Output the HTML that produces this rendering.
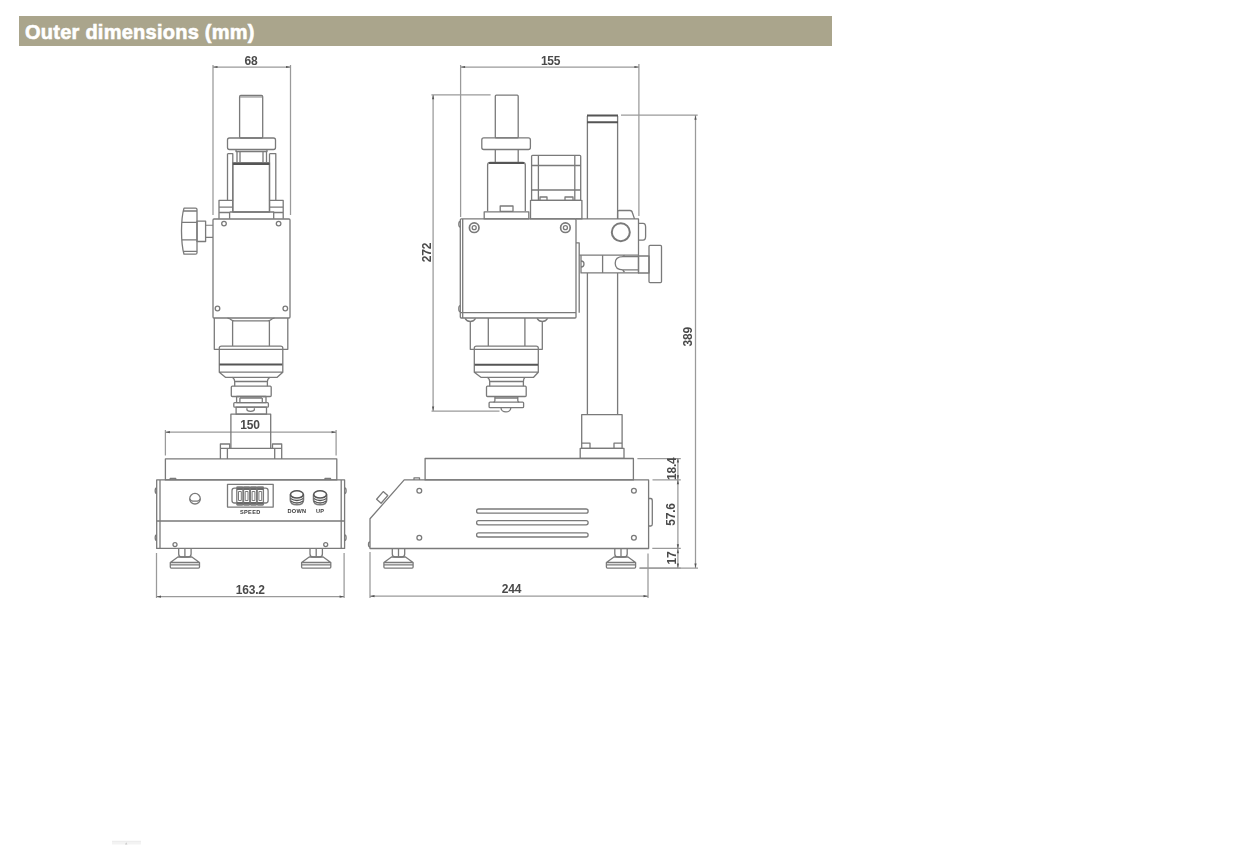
<!DOCTYPE html>
<html><head><meta charset="utf-8">
<style>
html,body{margin:0;padding:0;background:#fff;width:1243px;height:857px;overflow:hidden;}
#hdr{position:absolute;left:19px;top:16px;width:813px;height:30px;background:#aaa58c;}
#hdr span{position:absolute;left:6px;top:4.5px;font:bold 20px/22px "Liberation Sans",sans-serif;color:#fff;letter-spacing:0.25px;-webkit-text-stroke:0.6px #fff;white-space:nowrap;}
svg{position:absolute;left:0;top:0;will-change:transform;}
.m{fill:none;stroke:#7a7a7a;stroke-width:1.3;stroke-linejoin:round;}
.k{fill:none;stroke:#555;stroke-width:2;}
.d{fill:none;stroke:#9a9a9a;stroke-width:1.25;}
.a{fill:#555;stroke:none;}
.t{font-family:"Liberation Sans",sans-serif;font-size:12px;font-weight:bold;fill:#4a4a4a;letter-spacing:-0.2px;}
.s{font-family:"Liberation Sans",sans-serif;font-size:5.6px;font-weight:bold;fill:#3a3a3a;letter-spacing:0.3px;}
</style></head>
<body>
<div id="hdr"><span>Outer dimensions (mm)</span></div>
<svg width="1243" height="857" viewBox="0 0 1243 857">
<!-- ============ DIMENSIONS ============ -->
<g class="d">
<path d="M213 65V215 M290.5 65V215 M213 67H290.5"/>
<path d="M165.4 430V455.5 M336.1 430V455.5 M165.4 432.2H336.1"/>
<path d="M156.5 553V598 M344.1 553V598 M156.5 596.7H344.1"/>
<path d="M460.6 65V217 M638.9 64V216 M460.6 67H638.9"/>
<path d="M431.4 94.8H490.6 M431.5 411H499.5 M433.1 94.8V411"/>
<path d="M621 115.2H697.7 M640 568.2H698 M695.5 115.2V568.2 M668 115.2H678"/>
<path d="M370 552V598 M648 553.6V598 M370 596.2H648"/>
<path d="M637.4 458.6H680.8 M652.5 479.9H680.8 M652.3 548.4H680.8 M639.2 568.2H680.8 M677.9 458.6V568.2"/>
</g>
<g class="a">
<path d="M213 67l4.5 -1.1v2.2z M290.5 67l-4.5 -1.1v2.2z"/>
<path d="M165.4 432.2l4.5 -1.1v2.2z M336.1 432.2l-4.5 -1.1v2.2z"/>
<path d="M156.5 596.7l4.5 -1.1v2.2z M344.1 596.7l-4.5 -1.1v2.2z"/>
<path d="M460.6 67l4.5 -1.1v2.2z M638.9 67l-4.5 -1.1v2.2z"/>
<path d="M433.1 94.8l-1.1 4.5h2.2z M433.1 411l-1.1 -4.5h2.2z"/>
<path d="M695.5 115.2l-1.1 4.5h2.2z M695.5 568l-1.1 -4.5h2.2z"/>
<path d="M370 596.2l4.5 -1.1v2.2z M648 596.2l-4.5 -1.1v2.2z"/>
<path d="M677.9 458l-1.1 4.5h2.2z M677.9 479.8l-1.1 -4.5h2.2z M677.9 479.8l-1.1 4.5h2.2z M677.9 548.7l-1.1 -4.5h2.2z M677.9 548.7l-1.1 4.5h2.2z M677.9 568.1l-1.1 -4.5h2.2z"/>
</g>
<text class="t" x="251" y="64.5" text-anchor="middle">68</text>
<text class="t" x="250" y="429" text-anchor="middle">150</text>
<text class="t" x="250.3" y="593.5" text-anchor="middle">163.2</text>
<text class="t" x="550.6" y="64.5" text-anchor="middle">155</text>
<text class="t" x="511.4" y="592.5" text-anchor="middle">244</text>
<text class="t" text-anchor="middle" transform="translate(430.5 252.6) rotate(-90)">272</text>
<text class="t" text-anchor="middle" transform="translate(692 336.8) rotate(-90)">389</text>
<text class="t" text-anchor="middle" transform="translate(675.5 468.7) rotate(-90)">18.4</text>
<text class="t" text-anchor="middle" transform="translate(675 514.5) rotate(-90)">57.6</text>
<text class="t" text-anchor="middle" transform="translate(675.5 558) rotate(-90)">17</text>

<!-- ============ LEFT VIEW ============ -->
<g class="m">
<rect x="239.6" y="95.5" width="23.1" height="42.5" rx="1.2"/><path d="M240 97H262.3" stroke="#999" stroke-width="1.2"/>

<rect x="227.5" y="138" width="48" height="11.5" rx="2"/>
<path d="M236 149.5V151.5H267V149.5"/>
<path d="M237 151.5V163 M240 151.5V163 M263 151.5V163 M266.5 151.5V163"/>
<path d="M227.5 153.7H232.8V200.4 M227.5 153.7V200.4 M269.5 153.7H275.8V200.4 M269.5 153.7V200.4"/>
<rect x="232.8" y="162.6" width="36.7" height="49.4"/>
<path class="k" d="M233 164H269.5"/>
<path d="M219 218.8V200.4H232.8V212 M219 207.2H232.8 M219 212.5H229.6"/>
<path d="M283.2 218.8V200.4H269.5V212 M269.5 207.2H283.2 M273.7 212.5H283.2"/>
<path d="M229.6 212H273.7V218.8 M229.6 212V218.8"/>
<rect x="213" y="219" width="77" height="99" rx="1"/>
<circle cx="224" cy="223.6" r="2.3"/>
<circle cx="278.6" cy="223.6" r="2.3"/>
<circle cx="217.5" cy="308.5" r="2.3"/>
<circle cx="285.3" cy="308.5" r="2.3"/>
<path d="M184 208.1H195.5Q197 208.1 197 209.6V252.7Q197 254.2 195.5 254.2H184Q181.6 246 181.5 231Q181.6 216 184 208.1Z M182.8 211H197 M182.8 251.3H197"/>
<path d="M181.8 222.3H197 M181.8 239.9H197"/>
<rect x="197" y="221.1" width="8.6" height="20.4"/>
<path d="M205.6 225.2H213 M205.6 237.4H213" stroke-width="1.1"/>
<path d="M214.3 318V349.3H219.3 M282.8 349.3H287.8V318"/>
<path d="M232.6 321V346 M269.4 321V346 M227.5 318.1Q230 318.3 231.5 320Q232.5 320.9 234.5 320.9H267.5Q269.5 320.9 270.5 320Q272 318.3 274.5 318.1"/>
<path d="M219.3 372.2V348Q219.3 346.1 221.5 346.1H280.6Q282.8 346.1 282.8 348V372.2L277.2 377.3H225.4L219.3 372.2H282.8 M219.3 349.3H282.8"/>
<path class="k" d="M219.5 364.6H282.3"/>
<path d="M232.4 377.3Q234.7 379 234.7 381.5V386.2 M269.8 377.3Q267.4 379 267.4 381.5V386.2 M234 381.5H268"/>
<rect x="231.3" y="386.2" width="39.9" height="10.3" rx="1"/>
<rect x="236.6" y="396.5" width="29.4" height="6.1"/><path d="M239.9 398V402.6 M262.3 398V402.6 M240 398H262"/>
<rect x="233.8" y="402.6" width="34.6" height="4.6" rx="1"/>
<rect x="236.1" y="407.2" width="30.4" height="7"/>
<path d="M246.9 408.2V409.6Q246.9 411.4 250.6 411.4Q254.4 411.4 254.4 409.6V408.2"/>
<path d="M230.9 448.3V414.2H270.7V448.3"/>
<path d="M220.4 458.9V444H229.7V448.3 M220.4 448.3H281.7 M272.5 448.3V444H281.7V458.9"/>
<path d="M227.4 448.3V458.9 M274.7 448.3V458.9"/>
<rect x="165.4" y="458.9" width="171.4" height="21"/>
<rect x="156.7" y="479.9" width="187.9" height="68.5"/>
<path d="M160 479.9V548.6 M341.2 479.9V548.6 M156.7 521H344.6"/>
<path d="M156.7 488Q155.2 488 155.2 490.8Q155.2 493.5 156.7 493.5 M156.7 535Q155.2 535 155.2 537.7Q155.2 540.4 156.7 540.4 M344.6 488Q346.1 488 346.1 490.8Q346.1 493.5 344.6 493.5 M344.6 535Q346.1 535 346.1 537.7Q346.1 540.4 344.6 540.4 M170.2 479.9V478.3H175.7V479.9 M325 479.9V478.3H330.5V479.9"/>
<circle cx="195" cy="498.7" r="5.3"/>
<path d="M190 498.7A5 2.5 0 0 0 200 498.7"/>
<rect x="227.5" y="484.3" width="45.7" height="22.8"/>
<rect x="232" y="488.2" width="36.1" height="14.8" rx="2.5"/>
<rect x="236.8" y="487" width="6.2" height="18" rx="0.8"/>
<path d="M236.9 488.8H242.9 M236.9 503.2H242.9" stroke="#6a6a6a" stroke-width="2.6"/>
<rect x="238.5" y="491.5" width="2.8" height="9" fill="#fff" stroke-width="1"/>
<rect x="243.5" y="487" width="6.2" height="18" rx="0.8"/>
<path d="M243.6 488.8H249.6 M243.6 503.2H249.6" stroke="#6a6a6a" stroke-width="2.6"/>
<rect x="245.2" y="491.5" width="2.8" height="9" fill="#fff" stroke-width="1"/>
<rect x="250.4" y="487" width="6.2" height="18" rx="0.8"/>
<path d="M250.5 488.8H256.5 M250.5 503.2H256.5" stroke="#6a6a6a" stroke-width="2.6"/>
<rect x="252.1" y="491.5" width="2.8" height="9" fill="#fff" stroke-width="1"/>
<rect x="257.2" y="487" width="6.2" height="18" rx="0.8"/>
<path d="M257.3 488.8H263.3 M257.3 503.2H263.3" stroke="#6a6a6a" stroke-width="2.6"/>
<rect x="258.9" y="491.5" width="2.8" height="9" fill="#fff" stroke-width="1"/>
<path d="M290.3 494.5V500Q290.3 504.8 296.9 504.8Q303.5 504.8 303.5 500V494.5" stroke-width="1.5"/>
<path d="M290.5 498.5Q296.9 502.5 303.3 498.5 M290.7 501Q296.9 505 303.1 501" stroke="#555" stroke-width="1.4"/>
<ellipse cx="296.9" cy="494.4" rx="6.4" ry="3.6" stroke="#555" stroke-width="1.6"/>
<path d="M313.5 494.5V500Q313.5 504.8 320.1 504.8Q326.7 504.8 326.7 500V494.5" stroke-width="1.5"/>
<path d="M313.7 498.5Q320.1 502.5 326.5 498.5 M313.9 501Q320.1 505 326.3 501" stroke="#555" stroke-width="1.4"/>
<ellipse cx="320.1" cy="494.4" rx="6.4" ry="3.6" stroke="#555" stroke-width="1.6"/>
<circle cx="175" cy="544.6" r="2"/>
<circle cx="325.7" cy="544.6" r="2"/>
<path d="M178.7 548.5V554.0Q178.7 557.0 181.7 557.0H188.1Q191.1 557.0 191.1 554.0V548.5 M184.9 549.0V557.0"/>
<path d="M177.9 557.0L170.3 562.5V567.1Q170.3 568.1 171.3 568.1H198.5Q199.5 568.1 199.5 567.1V562.5L191.9 557.0Z M170.3 562.5H199.5 M170.3 564.8H199.5"/>
<path d="M310.0 548.5V554.0Q310.0 557.0 313.0 557.0H319.4Q322.4 557.0 322.4 554.0V548.5 M316.2 549.0V557.0"/>
<path d="M309.2 557.0L301.6 562.5V567.1Q301.6 568.1 302.6 568.1H329.8Q330.8 568.1 330.8 567.1V562.5L323.2 557.0Z M301.6 562.5H330.8 M301.6 564.8H330.8"/>
</g>
<text class="s" x="250.3" y="513.5" text-anchor="middle">SPEED</text>
<text class="s" x="297" y="513" text-anchor="middle">DOWN</text>
<text class="s" x="320.2" y="513" text-anchor="middle">UP</text>

<!-- ============ RIGHT VIEW ============ -->
<g class="m">
<rect x="495.3" y="95.2" width="22.9" height="42.7" rx="1"/>

<rect x="481.8" y="137.9" width="48.6" height="11.6" rx="2"/>
<path d="M495.3 149.5V162.3 M518.2 149.5V162.3"/>
<path d="M487.6 211.3V165Q487.6 162.3 490.3 162.3H522.6Q525.3 162.3 525.3 165V211.3"/>
<path class="k" d="M489 163H524"/>
<rect x="500.2" y="206" width="12.8" height="5.3"/>
<rect x="484.2" y="211.8" width="44.6" height="7.1"/>
<rect x="531.6" y="155.3" width="49.1" height="45" rx="1"/>
<path d="M538.4 155.3V200.3 M574.8 155.3V200.3 M531.6 165.5H580.7 M531.6 190H580.7 M538.4 165.5H574.8"/>
<path d="M540 200.3V197H547V200.3 M565 200.3V197H573V200.3"/>
<rect x="530.5" y="200.3" width="51.4" height="18.6"/>
<path d="M587.4 218.9V116 M617.6 218.9V116 M587.4 272.9V414.7 M617.6 272.9V414.7"/>
<path class="k" d="M587 115.5H618 M587 122.2H618"/>
<path d="M617.6 218.9V211.5Q617.6 210.5 619 210.5H630Q632 210.5 632.5 213L634.5 218.9"/>
<rect x="460.3" y="218.9" width="115.7" height="99.1" rx="1"/>
<path d="M462.7 218.9V318 M460.3 312.7H576 M576 242.8H579.2V312.7"/>
<path d="M460.3 221.5Q458.8 221.5 458.8 224.2Q458.8 227 460.3 227 M460.3 305.6Q458.8 305.6 458.8 308.7Q458.8 311.8 460.3 311.8"/>
<circle cx="474.2" cy="227.7" r="4.8" stroke-width="1.7"/>
<circle cx="474.2" cy="227.7" r="2"/>
<circle cx="565.4" cy="227.7" r="4.8" stroke-width="1.7"/>
<circle cx="565.4" cy="227.7" r="2"/>
<path d="M576 218.9H638.5V255.2H579.2"/>
<circle cx="620.8" cy="232.2" r="9" stroke-width="2"/>
<path d="M638.5 223.3H643Q645.6 223.3 645.6 227V236.5Q645.6 240.1 643 240.1H638.5"/>
<path d="M581 255.2V272.9H638.5V255.2 M602.6 255.2V272.9"/>
<path d="M638.5 256.7H623Q615.2 256.7 615.2 263.3Q615.2 269.9 623 269.9H638.5 M622.5 256.7L624.5 255.2 M622.5 269.9L624.5 272.2"/>
<path d="M581 261Q584 261 584 264Q584 267 581 267"/>
<rect x="638.5" y="256" width="10.5" height="17"/>
<rect x="649" y="245.4" width="12.5" height="37.2" rx="1"/>
<path d="M470.3 321V349.3H474.3 M538.3 349.3H542.3V321 M488.3 318V346 M524.9 318V346 M465 318.3Q467 321.5 470.3 321.5Q473.6 321.5 475.6 318.3 M537 318.3Q539 321.5 542.3 321.5Q545.6 321.5 547.6 318.3"/>
<path d="M474.3 372.2V348Q474.3 346.1 476.5 346.1H536.1Q538.3 346.1 538.3 348V372.2L533.6 377.3H480.9L474.3 372.2H538.3 M474.3 349.3H538.3"/>
<path class="k" d="M474.6 364.7H538"/>
<path d="M487.4 377.3Q489.7 379 489.7 381.5V386.2 M524.8 377.3Q523.4 379 523.4 381.5V386.2 M489 381.5H524"/>
<rect x="486.5" y="386.2" width="39.7" height="10.3" rx="1"/>
<path d="M494.9 396.5V400.5Q494.9 402.1 493.5 402.1 M517.8 396.5V400.5Q517.8 402.1 519.2 402.1 M494.9 398H517.8"/>
<rect x="489.1" y="402.1" width="34.5" height="5.6" rx="1"/>
<path d="M501 407.7A4.9 4.2 0 0 0 510.8 407.7"/>
<rect x="581.7" y="414.7" width="40.4" height="33.7"/>
<path d="M581.7 443.2H590V448.4 M614 448.4V443.2H622.1"/>
<rect x="580.2" y="448.4" width="43.8" height="10"/>
<rect x="425.1" y="458.5" width="208.3" height="21.4"/>
<path d="M404.2 479.9H648.6V548.5H370V518.8Z"/>
<circle cx="419.3" cy="490.8" r="2.4"/>
<circle cx="633.9" cy="490.8" r="2.4"/>
<circle cx="419.3" cy="537.7" r="2.4"/>
<circle cx="633.9" cy="537.7" r="2.4"/>
<rect x="476.6" y="509" width="111.5" height="4.2" rx="2"/>
<rect x="476.6" y="520.6" width="111.5" height="4.2" rx="2"/>
<rect x="476.6" y="532.8" width="111.5" height="4.2" rx="2"/>
<path d="M381.1 503.2L387.7 495.6L383.2 491.6L376.6 499.2Z"/>
<path d="M648.6 498.5H650.8Q652.3 498.5 652.3 501V524Q652.3 526 650.8 526H648.6"/>
<path d="M370 542Q368.5 542 368.5 544.5Q368.5 547 370 547 M414 479.9V477.8H419.5V479.9"/>
<path d="M392.3 548.5V554.0Q392.3 557.0 395.3 557.0H401.7Q404.7 557.0 404.7 554.0V548.5 M398.5 549.0V557.0"/>
<path d="M391.5 557.0L383.9 562.5V567.1Q383.9 568.1 384.9 568.1H412.1Q413.1 568.1 413.1 567.1V562.5L405.5 557.0Z M383.9 562.5H413.1 M383.9 564.8H413.1"/>
<path d="M614.8 548.5V554.0Q614.8 557.0 617.8 557.0H624.2Q627.2 557.0 627.2 554.0V548.5 M621.0 549.0V557.0"/>
<path d="M614.0 557.0L606.4 562.5V567.1Q606.4 568.1 607.4 568.1H634.6Q635.6 568.1 635.6 567.1V562.5L628.0 557.0Z M606.4 562.5H635.6 M606.4 564.8H635.6"/>
</g>
<rect x="112" y="841" width="29" height="3.5" fill="#f3f3f3"/><path d="M112 841.3H141" stroke="#e8e8e8" stroke-width="0.8"/><path d="M125 844.5L126.2 842.2L127.4 844.5Z" fill="#c8c8c8"/>
</svg>
</body></html>
